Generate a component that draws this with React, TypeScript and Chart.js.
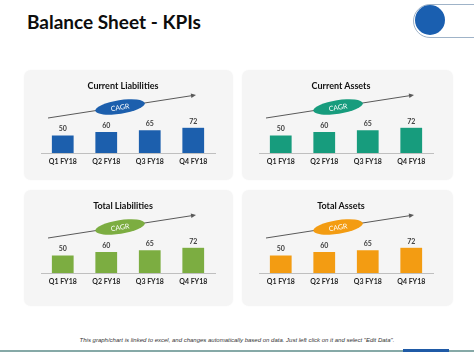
import React, { useEffect, useRef } from "react";
import { Chart, registerables } from "chart.js";

Chart.register(...registerables);

// ---- Data ----
const categories = ["Q1 FY18", "Q2 FY18", "Q3 FY18", "Q4 FY18"];
const currentLiabilities = [50, 60, 65, 72];
const currentAssets = [50, 60, 65, 72];
const totalLiabilities = [50, 60, 65, 72];
const totalAssets = [50, 60, 65, 72];
const panelTitles = ["Current Liabilities", "Current Assets", "Total Liabilities", "Total Assets"];
const yMax = 100;

const FONT = "Lato, 'Open Sans', sans-serif";

type PanelProps = {
  title: string;
  values: number[];
  color: string;
  left: number;
  top: number;
  width: number;
  height: number;
};

function Panel({ title, values, color, left, top, width, height }: PanelProps) {
  const ref = useRef<HTMLCanvasElement>(null);
  useEffect(() => {
    const deco = {
      id: "deco",
      afterDatasetsDraw(chart: any) {
        const ctx = chart.ctx;
        const meta = chart.getDatasetMeta(0);
        ctx.save();
        ctx.fillStyle = "#404040";
        ctx.font = `bold 7px ${FONT}`;
        ctx.textAlign = "center";
        ctx.textBaseline = "bottom";
        meta.data.forEach((bar: any, i: number) => {
          ctx.fillText(String(values[i]), bar.x, bar.y - 3);
        });
        ctx.restore();
      },
      afterDraw(chart: any) {
        const ctx = chart.ctx;
        const x1 = 24, y1 = 48, x2 = 172, y2 = 25;
        const ang = Math.atan2(y2 - y1, x2 - x1);
        ctx.save();
        ctx.strokeStyle = "#595959";
        ctx.fillStyle = "#595959";
        ctx.lineWidth = 1;
        ctx.beginPath();
        ctx.moveTo(x1, y1);
        ctx.lineTo(x2 - 4 * Math.cos(ang), y2 - 4 * Math.sin(ang));
        ctx.stroke();
        ctx.beginPath();
        ctx.moveTo(x2, y2);
        ctx.lineTo(x2 - 5 * Math.cos(ang) + 2.2 * Math.sin(ang), y2 - 5 * Math.sin(ang) - 2.2 * Math.cos(ang));
        ctx.lineTo(x2 - 5 * Math.cos(ang) - 2.2 * Math.sin(ang), y2 - 5 * Math.sin(ang) + 2.2 * Math.cos(ang));
        ctx.closePath();
        ctx.fill();
        // CAGR ellipse
        ctx.translate(96, 37);
        ctx.rotate(ang);
        ctx.fillStyle = color;
        ctx.beginPath();
        ctx.ellipse(0, 0, 25, 6.8, 0, 0, Math.PI * 2);
        ctx.fill();
        ctx.fillStyle = "#ffffff";
        ctx.font = `7px ${FONT}`;
        ctx.textAlign = "center";
        ctx.textBaseline = "middle";
        ctx.fillText("CAGR", 0, 0.5);
        ctx.restore();
      },
    };
    const chart = new Chart(ref.current!, {
      type: "bar",
      data: {
        labels: categories,
        datasets: [
          {
            data: values,
            backgroundColor: color,
            barPercentage: 0.5,
            categoryPercentage: 1,
          },
        ],
      },
      options: {
        responsive: false,
        animation: false,
        devicePixelRatio: 1,
        layout: { padding: { left: 17, right: width - 191, top: 48, bottom: height - 88 - 13.4 } },
        plugins: {
          legend: { display: false },
          tooltip: { enabled: false },
          title: { display: false },
        },
        scales: {
          x: {
            grid: { display: false, drawTicks: false },
            border: { display: true, color: "#bfbfbf", width: 1 },
            ticks: {
              color: "#262626",
              font: { family: FONT, size: 7, weight: "bold" },
              padding: 5,
              maxRotation: 0,
            },
          },
          y: { display: false, min: 0, max: yMax },
        },
      },
      plugins: [deco],
    } as any);
    return () => chart.destroy();
  }, []);
  return (
    <div
      style={{
        position: "absolute",
        left,
        top,
        width,
        height,
        background: "#f5f5f5",
        borderRadius: 7,
        boxShadow: "0 0 2px rgba(0,0,0,0.04)",
      }}
    >
      <canvas ref={ref} width={width} height={height} style={{ position: "absolute", left: 0, top: 0 }} />
      <div
        style={{
          position: "absolute",
          top: 10,
          left: 0,
          width: 198,
          textAlign: "center",
          font: `bold 9px ${FONT}`,
          lineHeight: "11px",
          color: "#111",
        }}
      >
        {title}
      </div>
    </div>
  );
}

export default function App() {
  return (
    <div style={{ position: "absolute", left: 0, top: 0, width: 474, height: 355, background: "#fff", overflow: "hidden" }}>
      <div
        style={{
          position: "absolute",
          left: 27,
          top: 9,
          font: `bold 19px ${FONT}`,
          lineHeight: "25px",
          color: "#0d0d0d",
          whiteSpace: "nowrap",
        }}
      >
        Balance Sheet - KPIs
      </div>
      <div
        style={{
          position: "absolute",
          left: 413,
          top: 4,
          width: 90,
          height: 32,
          borderRadius: 17,
          border: "1.5px solid #9fb3c8",
          background: "#fff",
        }}
      />
      <div
        style={{
          position: "absolute",
          left: 415,
          top: 5,
          width: 30,
          height: 30,
          borderRadius: 15,
          background: "#1a5fb0",
        }}
      />
      <Panel title={panelTitles[0]} values={currentLiabilities} color="#1c5fad" left={24} top={70} width={209} height={110} />
      <Panel title={panelTitles[1]} values={currentAssets} color="#179c7d" left={242} top={70} width={211} height={110} />
      <Panel title={panelTitles[2]} values={totalLiabilities} color="#7cad41" left={24} top={190} width={209} height={116} />
      <Panel title={panelTitles[3]} values={totalAssets} color="#f39c12" left={242} top={190} width={211} height={116} />
      <div
        style={{
          position: "absolute",
          left: 0,
          width: 474,
          top: 336,
          textAlign: "center",
          font: `italic 6px 'Liberation Sans Narrow', 'Liberation Sans', sans-serif`,
          lineHeight: "8px",
          color: "#333",
          whiteSpace: "nowrap",
        }}
      >
        This graph/chart is linked to excel, and changes automatically based on data. Just left click on it and select "Edit Data".
      </div>
      <div style={{ position: "absolute", left: 0, top: 350, width: 474, height: 2, background: "#86a9a7" }} />
      <div style={{ position: "absolute", left: 403, top: 349, width: 46, height: 3, background: "#1f5aa6" }} />
    </div>
  );
}
